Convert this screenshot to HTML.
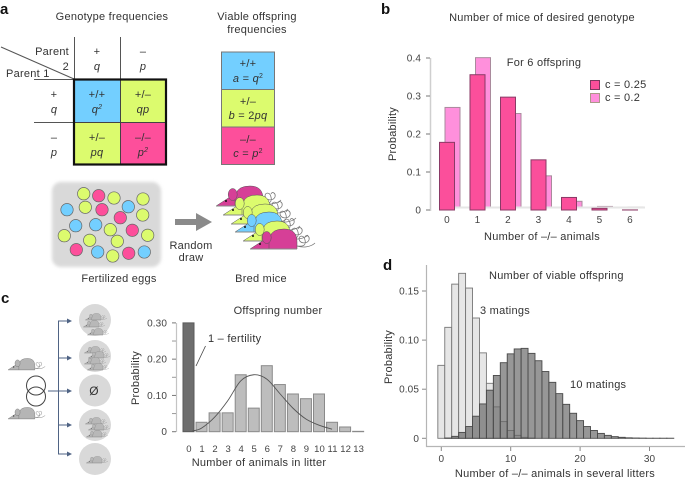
<!DOCTYPE html>
<html lang="en">
<head>
<meta charset="utf-8">
<title>Mouse genotype probability figure</title>
<style>
html,body{margin:0;padding:0;background:#fff}
svg{display:block}
text{font-family:"Liberation Sans",sans-serif;font-size:11px;fill:#333;letter-spacing:.25px}
.m{text-anchor:middle}
.e{text-anchor:end}
.i{font-style:italic}
.t{font-size:10px;fill:#444;letter-spacing:.1px}
.p{font-weight:bold;font-size:15px;fill:#111;letter-spacing:0}
.s{font-size:7px}
</style>
</head>
<body>
<svg id="fig" width="685" height="481" viewBox="0 0 685 481" xmlns="http://www.w3.org/2000/svg">
<defs>
<filter id="soft" x="-10%" y="-10%" width="120%" height="120%"><feGaussianBlur stdDeviation="1.5"/></filter>
<symbol id="mouse" overflow="visible" viewBox="0 0 70 24" width="70" height="24">
<path d="M47 19c8 1 9-2 8-6-1-5-6-5-6-1 1 5 8 5 10 1 1-4-3-6-4-3M47 19c6 2 14 1 18-3" fill="none" stroke="#777" stroke-width=".8" transform="translate(0,2)"/>
<path d="M0 24 L14 15 L20 12 Q22 4 34 4 Q47 4 47 17 L47 24 Z" fill="currentColor" stroke="#555" stroke-width=".5"/>
<path d="M19 17V24" stroke="#555" stroke-width=".5"/>
<ellipse cx="16.700" cy="12.500" rx="4.500" ry="6" fill="currentColor" stroke="#555" stroke-width=".5"/>
<circle cx="10" cy="19" r="1" fill="#111"/>
<path d="M0 24H47" stroke="#888" stroke-width="1"/>
</symbol>
</defs>

<g id="panel-a">
<text class="p" x="0" y="14">a</text>
<text class="m" x="112" y="20">Genotype frequencies</text>
<text class="m" x="257" y="20">Viable offspring</text>
<text class="m" x="257" y="33">frequencies</text>
<g stroke="#555" stroke-width="1" fill="none">
<path d="M74.500 37V79M120.500 37V79M34 79.500H74M34 122.500H74M1 47L74 79"/>
</g>
<text class="e" x="69" y="55">Parent</text>
<text class="e" x="69" y="70">2</text>
<text x="6" y="77">Parent 1</text>
<text class="m" x="97" y="55">+</text>
<text class="m i" x="97" y="70">q</text>
<text class="m" x="143" y="55">–</text>
<text class="m i" x="143" y="70">p</text>
<text class="m" x="54" y="98">+</text>
<text class="m i" x="54" y="113">q</text>
<text class="m" x="54" y="141">–</text>
<text class="m i" x="54" y="156">p</text>
<rect x="74" y="79" width="46" height="43" fill="#73cfff"/>
<rect x="120" y="79" width="46" height="43" fill="#dcfb6e"/>
<rect x="74" y="122" width="46" height="43" fill="#dcfb6e"/>
<rect x="120" y="122" width="46" height="43" fill="#fd4f9b"/>
<path d="M120.500 79V165M74 122.500H166" stroke="#444" stroke-width="1"/>
<rect x="74" y="79.500" width="92" height="85" fill="none" stroke="#111" stroke-width="2.200"/>
<text class="m" x="97" y="98">+/+</text>
<text class="m i" x="97" y="113">q<tspan class="s" dy="-4">2</tspan></text>
<text class="m" x="143" y="98">+/–</text>
<text class="m i" x="143" y="113">qp</text>
<text class="m" x="97" y="141">+/–</text>
<text class="m i" x="97" y="156">pq</text>
<text class="m" x="143" y="141">–/–</text>
<text class="m i" x="143" y="156">p<tspan class="s" dy="-4">2</tspan></text>

<g stroke="#777" stroke-width="1">
<rect x="221.500" y="52" width="53" height="37.500" fill="#73cfff"/>
<rect x="221.500" y="89.500" width="53" height="37.500" fill="#dcfb6e"/>
<rect x="221.500" y="127" width="53" height="37.500" fill="#fd4f9b"/>
</g>
<text class="m" x="248" y="67">+/+</text>
<text class="m" x="248" y="82"><tspan class="i">a</tspan> = <tspan class="i">q</tspan><tspan class="s" dy="-4">2</tspan></text>
<text class="m" x="248" y="105">+/–</text>
<text class="m" x="248" y="119"><tspan class="i">b</tspan> = 2<tspan class="i">pq</tspan></text>
<text class="m" x="248" y="143">–/–</text>
<text class="m" x="248" y="157"><tspan class="i">c</tspan> = <tspan class="i">p</tspan><tspan class="s" dy="-4">2</tspan></text>

<rect x="52" y="182" width="109" height="85" rx="9" fill="#d9d9d9" filter="url(#soft)"/>
<g id="eggs" stroke="#666" stroke-width=".7">
<circle cx="83.700" cy="193.700" r="6.200" fill="#dcfb6e"/>
<circle cx="98.700" cy="195.700" r="6.200" fill="#fd4f9b"/>
<circle cx="114" cy="198" r="6.200" fill="#dcfb6e"/>
<circle cx="143" cy="199" r="6.200" fill="#dcfb6e"/>
<circle cx="67" cy="209.700" r="6.200" fill="#73cfff"/>
<circle cx="85.300" cy="207.300" r="6.200" fill="#dcfb6e"/>
<circle cx="102" cy="209.700" r="6.200" fill="#fd4f9b"/>
<circle cx="128.300" cy="206.700" r="6.200" fill="#73cfff"/>
<circle cx="142.700" cy="215" r="6.200" fill="#dcfb6e"/>
<circle cx="120.300" cy="217.700" r="6.200" fill="#fd4f9b"/>
<circle cx="75.700" cy="225.700" r="6.200" fill="#73cfff"/>
<circle cx="95.700" cy="224.700" r="6.200" fill="#73cfff"/>
<circle cx="110.300" cy="229.700" r="6.200" fill="#dcfb6e"/>
<circle cx="132.300" cy="230.300" r="6.200" fill="#fd4f9b"/>
<circle cx="64.300" cy="235.700" r="6.200" fill="#dcfb6e"/>
<circle cx="147.700" cy="235.300" r="6.200" fill="#dcfb6e"/>
<circle cx="89.700" cy="240.300" r="6.200" fill="#dcfb6e"/>
<circle cx="117.300" cy="241.300" r="6.200" fill="#dcfb6e"/>
<circle cx="76.300" cy="249.700" r="6.200" fill="#fd4f9b"/>
<circle cx="97.700" cy="252" r="6.200" fill="#73cfff"/>
<circle cx="112.700" cy="256" r="6.200" fill="#dcfb6e"/>
<circle cx="128.700" cy="253.300" r="6.200" fill="#fd4f9b"/>
<circle cx="144.300" cy="252" r="6.200" fill="#73cfff"/>
</g>
<path d="M175 219H196V213L212 222L196 231V225H175Z" fill="#8a8a8a"/>
<text class="m" x="191" y="249">Random</text>
<text class="m" x="191" y="261">draw</text>
<text class="m" x="119" y="282">Fertilized eggs</text>
<text class="m" x="261" y="282">Bred mice</text>
<use href="#mouse" x="216" y="182" color="#d63f97"/>
<use href="#mouse" x="223" y="191" color="#dcfb6e"/>
<use href="#mouse" x="231" y="200" color="#dcfb6e"/>
<use href="#mouse" x="235" y="208" color="#73cfff"/>
<use href="#mouse" x="243" y="217" color="#dcfb6e"/>
<use href="#mouse" x="250" y="225" color="#d63f97"/>
</g>

<g id="panel-b">
<text class="p" x="381" y="14">b</text>
<text class="m" x="542" y="21">Number of mice of desired genotype</text>
<text class="m" x="544" y="66">For 6 offspring</text>
<rect x="590.500" y="80.500" width="9" height="9" fill="#fb4f9b" stroke="#7a3a60"/>
<text x="605" y="88">c = 0.25</text>
<rect x="590.500" y="93.500" width="9" height="9" fill="#ff90dc" stroke="#a98"/>
<text x="605" y="101">c = 0.2</text>
<text class="m" x="542" y="240">Number of –/– animals</text>
<text class="m" transform="translate(396 134) rotate(-90)">Probability</text>
<g id="chart-b"></g>
</g>

<g id="panel-c">
<text class="p" x="1" y="303">c</text>
<use href="#mouse" x="8" y="356" width="40" height="14" color="#b5b5b5"/>
<use href="#mouse" x="8" y="405" width="40" height="14" color="#b5b5b5"/>
<circle cx="36" cy="385.500" r="9.500" fill="none" stroke="#444"/>
<circle cx="36" cy="396.500" r="9.500" fill="none" stroke="#444"/>
<circle cx="95" cy="320" r="16" fill="#d9d9d9"/>
<circle cx="95" cy="356" r="16" fill="#d9d9d9"/>
<circle cx="95" cy="390.500" r="16" fill="#d9d9d9"/>
<circle cx="95" cy="425" r="16" fill="#d9d9d9"/>
<circle cx="95" cy="459" r="16" fill="#d9d9d9"/>
<text class="m" x="94" y="395" style="font-size:12px">Ø</text>
<g color="#b8b8b8">
<use href="#mouse" x="85" y="312" width="24" height="8"/>
<use href="#mouse" x="83" y="319" width="24" height="8"/>
<use href="#mouse" x="87" y="327" width="24" height="8"/>
<use href="#mouse" x="84" y="345" width="24" height="8"/>
<use href="#mouse" x="88" y="350" width="24" height="8"/>
<use href="#mouse" x="84" y="356" width="24" height="8"/>
<use href="#mouse" x="87" y="362" width="24" height="8"/>
<use href="#mouse" x="85" y="416" width="24" height="8"/>
<use href="#mouse" x="88" y="422" width="24" height="8"/>
<use href="#mouse" x="86" y="429" width="24" height="8"/>
<use href="#mouse" x="86" y="455" width="24" height="8"/>
</g>
<g stroke="#4f6384" stroke-width="1" fill="none">
<path d="M58.500 321V454M48 391H69M58 321H69M58 358H69M58 425H69M58 454H69"/>
</g>
<g fill="#4f6384">
<path d="M67 318.500L72 321L67 323.500Z M67 355.500L72 358L67 360.500Z M67 388.500L72 391L67 393.500Z M67 422.500L72 425L67 427.500Z M67 451.500L72 454L67 456.500Z"/>
</g>
<text class="m" x="278" y="314">Offspring number</text>
<text x="208" y="342">1 – fertility</text>
<path d="M205.500 346L196 366" stroke="#444" stroke-width=".8" fill="none"/>
<text class="m" x="259" y="466">Number of animals in litter</text>
<text class="m" transform="translate(139 378) rotate(-90)">Probability</text>
<g id="chart-c"></g>
</g>

<g id="panel-d">
<text class="p" x="383" y="270">d</text>
<text x="489" y="279">Number of viable offspring</text>
<text x="480" y="314">3 matings</text>
<text x="570" y="388">10 matings</text>
<text class="m" x="555" y="477">Number of –/– animals in several litters</text>
<text class="m" transform="translate(392 357) rotate(-90)">Probability</text>
<g id="chart-d"></g>
</g>
</svg>

<script>
// Panel b data
const bCategories = [0, 1, 2, 3, 4, 5, 6];
const bC025 = [0.178, 0.356, 0.297, 0.132, 0.033, 0.0044, 0.0002];
const bC020 = [0.262, 0.393, 0.246, 0.082, 0.015, 0.0015, 0.0001];
const bYTicks = ["0", "0.1", "0.2", "0.3", "0.4"];
const bYTickValues = [0, 0.1, 0.2, 0.3, 0.4];

// Panel c data
const cCategories = [0, 1, 2, 3, 4, 5, 6, 7, 8, 9, 10, 11, 12, 13];
const cValues = [0.30, 0.026, 0.052, 0.052, 0.157, 0.065, 0.182, 0.13, 0.104, 0.091, 0.104, 0.026, 0.013, 0.001];
const cCurveX = [0.3, 1, 2, 3, 4, 5, 6, 7, 8, 9, 10, 11];
const cCurveY = [0.002, 0.01, 0.04, 0.085, 0.14, 0.157, 0.145, 0.105, 0.065, 0.035, 0.018, 0.007];
const cYTicks = ["0", "0.10", "0.20", "0.30"];
const cYTickValues = [0, 0.10, 0.20, 0.30];
const cMinorTicks = [0.05, 0.15, 0.25];

// Panel d data
const dThreeMatings = [0.0743, 0.113, 0.157, 0.168, 0.153, 0.1225, 0.087, 0.056, 0.032, 0.017, 0.008, 0.003, 0.001, 0.0003];
const dTenMatings = [0, 0.0003, 0.002, 0.006, 0.012, 0.0225, 0.035, 0.049, 0.064, 0.077, 0.086, 0.091, 0.0916, 0.0865, 0.079, 0.068, 0.057, 0.0455, 0.0346, 0.0255, 0.018, 0.012, 0.008, 0.005, 0.003, 0.0017, 0.001, 0.0005, 0.0003, 0.0002, 0.0001, 0.0001, 0.0001, 0.0001];
const dXTicks = [0, 10, 20, 30];
const dYTicks = ["0", "0.05", "0.10", "0.15"];
const dYTickValues = [0, 0.05, 0.10, 0.15];

const NS = 'http://www.w3.org/2000/svg';
function make(parent, tag, attrs, txt) {
  const el = document.createElementNS(NS, tag);
  for (const k in attrs) el.setAttribute(k, attrs[k]);
  if (txt !== undefined) el.textContent = txt;
  parent.appendChild(el);
  return el;
}

// ---- Panel b
(function () {
  const g = document.getElementById('chart-b');
  const bx = i => 447 + i * 30.5;
  const by = v => 210 - v * 380;
  let el;
  el = make(g, 'path', { d: 'M430.500 58V211', stroke: '#cfcfcf', 'stroke-width': 1.5, fill: 'none' });
  
  
  bYTickValues.forEach((v, i) => {
    const t = make(g, 'path', { d: 'M426 ' + by(v) + 'H430', stroke: '#777', fill: 'none' });
    
    
    const l = make(g, 'text', { x: 421, y: by(v) + 3.5, class: 't e' }, bYTicks[i]);
    
    
  });
  bC020.forEach((v, i) => {
    const h = v * 380;
    const r = make(g, 'rect', { x: bx(i) - 2, y: 207 - h, width: 15, height: h, fill: '#ff90dc', stroke: '#a98a9c', 'stroke-width': 1 });
    
    
  });
  el = make(g, 'rect', { x: 450, y: 206.500, width: 195, height: 2, fill: '#e6e6e6' });
  
  
  bC025.forEach((v, i) => {
    const h = v * 380;
    const r = make(g, 'rect', { x: bx(i) - 7.5, y: by(v), width: 15, height: h, fill: '#fb4f9b', stroke: '#8a3a66', 'stroke-width': 1 });
    
    
  });
  bCategories.forEach((c, i) => {
    const l = make(g, 'text', { x: bx(i), y: 223, class: 't m' }, c);
    
    
  });
})();

// ---- Panel c
(function () {
  const g = document.getElementById('chart-c');
  const cx = i => 188.5 + i * 13.05;
  const cy = v => 431.7 - v * 362.7;
  let el;
  el = make(g, 'path', { d: 'M176.500 323V432', stroke: '#c4c4c4', 'stroke-width': 1.2, fill: 'none' });
  
  
  cYTickValues.forEach((v, i) => {
    const t = make(g, 'path', { d: 'M172 ' + cy(v) + 'H176', stroke: '#777', fill: 'none' });
    
    
    const l = make(g, 'text', { x: 167, y: cy(v) + 3.5, class: 't e' }, cYTicks[i]);
    
    
  });
  cMinorTicks.forEach(v => {
    const t = make(g, 'path', { d: 'M172 ' + cy(v) + 'H176', stroke: '#999', fill: 'none' });
    
    
  });
  cValues.forEach((v, i) => {
    const r = make(g, 'rect', { x: cx(i) - 5.5, y: cy(v), width: 11, height: v * 362.7, fill: i === 0 ? '#6e6e6e' : '#bdbdbd', stroke: i === 0 ? '#5a5a5a' : '#8a8a8a', 'stroke-width': 1 });
    
    
  });
  cCategories.forEach((c, i) => {
    const l = make(g, 'text', { x: cx(i) + 0.5, y: 452, class: 't m', style: 'font-size:9.5px' }, c);
    
    
  });
  const pts = cCurveX.map((x, i) => [cx(x), cy(cCurveY[i])]);
  let d = 'M' + pts[0][0] + ' ' + pts[0][1];
  for (let i = 1; i < pts.length; i++) {
    const p0 = pts[Math.max(0, i - 2)], p1 = pts[i - 1], p2 = pts[i], p3 = pts[Math.min(pts.length - 1, i + 1)];
    d += 'C' + (p1[0] + (p2[0] - p0[0]) / 6) + ' ' + (p1[1] + (p2[1] - p0[1]) / 6) + ' ' + (p2[0] - (p3[0] - p1[0]) / 6) + ' ' + (p2[1] - (p3[1] - p1[1]) / 6) + ' ' + p2[0] + ' ' + p2[1];
  }
  el = make(g, 'path', { d: d, fill: 'none', stroke: '#555', 'stroke-width': 0.9 });
  
  
})();

// ---- Panel d
(function () {
  const g = document.getElementById('chart-d');
  const dx = v => 441.3 + v * 6.94;
  const dy = v => 438.3 - v * 982;
  let el;
  el = make(g, 'path', { d: 'M426.500 265V446.500H685', stroke: '#b5b5b5', 'stroke-width': 1.2, fill: 'none' });
  
  
  dYTickValues.forEach((v, i) => {
    const t = make(g, 'path', { d: 'M422 ' + dy(v) + 'H426', stroke: '#888', fill: 'none' });
    
    
    const l = make(g, 'text', { x: 419, y: dy(v) + 3.5, class: 't e' }, dYTicks[i]);
    
    
  });
  dXTicks.forEach(v => {
    const t = make(g, 'path', { d: 'M' + dx(v) + ' 447V451', stroke: '#888', fill: 'none' });
    
    
    const l = make(g, 'text', { x: dx(v), y: 462, class: 't m' }, v);
    
    
  });
  dThreeMatings.forEach((v, i) => {
    const r = make(g, 'rect', { x: dx(i) - 3.47, y: dy(v), width: 6.94, height: v * 982, fill: '#e6e6e6', stroke: '#777', 'stroke-width': 0.9 });
    
    
  });
  dTenMatings.forEach((v, i) => {
    const r = make(g, 'rect', { x: dx(i) - 3.47, y: dy(v), width: 6.94, height: v * 982, fill: '#666', 'fill-opacity': 0.68, stroke: '#4a4a4a', 'stroke-width': 0.9 });
    
    
  });
})();
</script>
</body>
</html>
